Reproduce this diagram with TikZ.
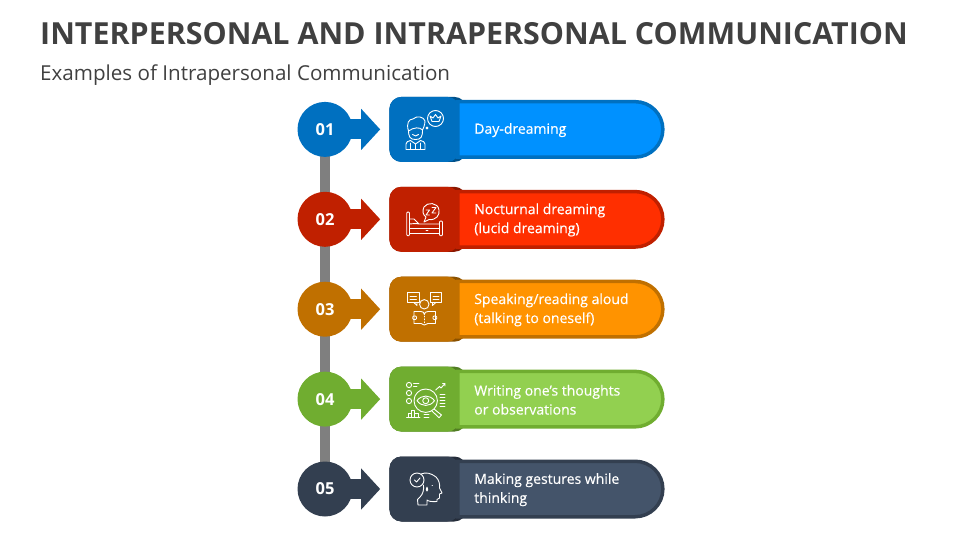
\documentclass[tikz,border=0pt]{standalone}
\usepackage{xcolor}
\usepackage{fontspec}
\usepackage{tikz}
\usetikzlibrary{positioning,arrows.meta,shapes.misc,backgrounds}
\setmainfont{Open Sans}
\newfontfamily\captionfont[FakeBold=0.4]{Open Sans}
\definecolor{blueDark}{HTML}{0070C0}
\definecolor{blueLight}{HTML}{0091FF}
\definecolor{redDark}{HTML}{C02000}
\definecolor{redLight}{HTML}{FF2F00}
\definecolor{orangeDark}{HTML}{C07000}
\definecolor{orangeLight}{HTML}{FF9300}
\definecolor{greenDark}{HTML}{70AD30}
\definecolor{greenLight}{HTML}{92D050}
\definecolor{slateDark}{HTML}{333F50}
\definecolor{slateLight}{HTML}{44546A}
\definecolor{titleGray}{HTML}{404040}
\definecolor{spineGray}{HTML}{7F7F7F}

\begin{document}
\begin{tikzpicture}[x=1pt, y=-1pt,
    bubble/.style={circle, fill=#1, minimum size=55pt, inner sep=0pt, text=white, font=\fontsize{16.5}{19}\bfseries\selectfont},
    pointer/.style={draw=#1, line width=20pt, shorten >=9pt, -{Triangle[length=19pt, width=40pt]}},
    tile/.style={fill=#1!72!black, minimum width=77pt, minimum height=65pt, inner sep=0pt, rounded corners=12pt,
        path picture={\fill[#1] (path picture bounding box.south west) rectangle ([xshift=-7pt]path picture bounding box.north east);}},
    pill/.style={rounded rectangle, rounded rectangle left arc=none, draw=#1Dark, fill=#1Light, line width=3.5pt, minimum width=205pt, minimum height=55.5pt, inner sep=0pt},
    caption/.style={text=white, inner sep=0pt, align=left, yshift=-.7pt, font=\captionfont\fontsize{14}{19}\selectfont},
    spine/.style={draw=spineGray, line width=10pt},
    icon/.style={draw=white, line width=.9pt, line join=round, line cap=round}]
    \useasboundingbox (0,0) rectangle (960,540);

    % Titulos
    \node[anchor=west, inner sep=0pt, text=titleGray, font=\fontsize{30.4}{36}\bfseries\selectfont] (title) at (40,34)
        {INTERPERSONAL AND INTRAPERSONAL COMMUNICATION};
    \node[anchor=west, inner sep=0pt, text=titleGray, font=\fontsize{20.6}{24}\selectfont] (subtitle) at (40,75)
        {Examples of Intrapersonal Communication};

    % Circulos numerados
    \node[bubble=blueDark] (c1) at (325,129.4) {01};
    \node[bubble=redDark, below=34.5pt of c1] (c2) {02};
    \node[bubble=orangeDark, below=34.5pt of c2] (c3) {03};
    \node[bubble=greenDark, below=34.5pt of c3] (c4) {04};
    \node[bubble=slateDark, below=34.5pt of c4] (c5) {05};

    % Linea vertical
    \begin{scope}[on background layer]
        \draw[spine] (c1.center) -- (c2.center);
        \draw[spine] (c2.center) -- (c3.center);
        \draw[spine] (c3.center) -- (c4.center);
        \draw[spine] (c4.center) -- (c5.center);
    \end{scope}

    % Bloques de color
    \node[tile=blueDark, right=36.5pt of c1] (t1) {};
    \node[tile=redDark, right=36.5pt of c2] (t2) {};
    \node[tile=orangeDark, right=36.5pt of c3] (t3) {};
    \node[tile=greenDark, right=36.5pt of c4] (t4) {};
    \node[tile=slateDark, right=36.5pt of c5] (t5) {};

    % Flechas
    \draw[pointer=blueDark] ([xshift=20pt]c1.center) -- (t1.west);
    \draw[pointer=redDark] ([xshift=20pt]c2.center) -- (t2.west);
    \draw[pointer=orangeDark] ([xshift=20pt]c3.center) -- (t3.west);
    \draw[pointer=greenDark] ([xshift=20pt]c4.center) -- (t4.west);
    \draw[pointer=slateDark] ([xshift=20pt]c5.center) -- (t5.west);

    % Pastillas
    \node[pill=blue, right=-10.5pt of t1] (p1) {};
    \node[pill=red, right=-10.5pt of t2] (p2) {};
    \node[pill=orange, right=-10.5pt of t3] (p3) {};
    \node[pill=green, right=-10.5pt of t4] (p4) {};
    \node[pill=slate, right=-10.5pt of t5] (p5) {};

    % Textos
    \node[caption, right=7.5pt of t1] (l1) {Day-dreaming};
    \node[caption, right=7.5pt of t2] (l2) {Nocturnal dreaming\\(lucid dreaming)};
    \node[caption, right=7.5pt of t3] (l3) {Speaking/reading aloud\\(talking to oneself)};
    \node[caption, right=7.5pt of t4] (l4) {Writing one’s thoughts\\or observations};
    \node[caption, right=7.5pt of t5] (l5) {Making gestures while\\thinking};

    % Icono 1
    \begin{scope}[shift={(400,105)}, icon]
        \draw (35.5,13.5) circle (8);
        \draw (30,11) -- (32,16.5) -- (39,16.5) -- (41,11) -- (38,13) -- (35.5,9.5) -- (33,13) -- cycle;
        \draw (27,23) circle (1.1);
        \draw (8.5,25) .. controls (8.5,32) and (10,34.5) .. (15.5,34.5) .. controls (21,34.5) and (22.5,32) .. (22.5,25);
        \draw (8.5,26) .. controls (6,18) and (9,14) .. (13,14) .. controls (17,10) and (24,12) .. (25,16) .. controls (25,20) and (23,24) .. (22.5,25) .. controls (20,22) and (14,22) .. (8.5,26);
        \draw (12.5,29.5) .. controls (14,31.5) and (17,31.5) .. (18.5,29.5);
        \draw (6,44.5) -- (6,39) .. controls (6,37) and (8,36) .. (10.5,35.5) -- (15.5,39) -- (20.5,35.5) .. controls (23,36) and (25,37) .. (25,39) -- (25,44.5) -- cycle;
        \draw (10.5,38) -- (10.5,44.5) (15.5,39) -- (15.5,44.5) (20.5,38) -- (20.5,44.5);
    \end{scope}

    % Icono 2
    \begin{scope}[shift={(400,195)}, icon]
        \draw (26,22) -- (24,27) -- (29,24.5) .. controls (36,25.5) and (40,20) .. (39,15) .. controls (38,7) and (27,7) .. (24,12) .. controls (22,16) and (23,20) .. (26,22);
        \draw (26,15) -- (29.5,15) -- (26,20) -- (29.5,20);
        \draw (32,12.5) -- (36,12.5) -- (32,18) -- (36,18);
        \draw[rounded corners=1pt] (6.7,17) rectangle (9.5,40.7);
        \draw[rounded corners=1pt] (39.5,26) rectangle (42.5,40.7);
        \draw (9.5,24) -- (14,24) -- (19,29) -- (39.5,29) (19,29) .. controls (15,28) and (12,29) .. (9.5,29);
        \draw (9.5,33.5) -- (39.5,33.5) (9.5,38) -- (39.5,38);
        \draw (26,35.7) -- (28,35.7);
    \end{scope}

    % Icono 3
    \begin{scope}[shift={(400,285)}, icon]
        \draw (7.3,7.7) rectangle (19.3,17.7);
        \draw (14,17.7) -- (17,20.5) -- (17,17.7);
        \draw (10,11) -- (16.5,11) (10,14.3) -- (16.5,14.3);
        \draw (30,7.7) rectangle (41.7,17.7);
        \draw (32.5,17.7) -- (32.5,20.5) -- (35.5,17.7);
        \draw (33,11) -- (39,11) (33,14.3) -- (39,14.3);
        \draw (24.3,19.3) circle (4.7);
        \draw (14,26.5) -- (21,26.5) .. controls (23,26.5) and (24.3,27.5) .. (24.3,29.5) .. controls (24.3,27.5) and (26,26.5) .. (28,26.5) -- (35.5,26.5) -- (35.5,38.5) -- (28,38.5) -- (24.3,40) -- (21,38.5) -- (14,38.5) -- cycle;
        \draw[dotted] (24.3,31) -- (24.3,38.5);
        \draw[rounded corners=1pt] (12.7,31) rectangle (16.5,34.5);
        \draw[rounded corners=1pt] (33,31) rectangle (36.7,34.5);
    \end{scope}

    % Icono 4
    \begin{scope}[shift={(400,375)}, icon]
        \draw (9,10) circle (2.6) (9,18) circle (2.6) (9,26) circle (2.6);
        \draw (13.5,8.5) -- (19,8.5) (13.5,11) -- (17,11);
        \draw (25.7,25.7) circle (11.7);
        \draw (17,25.7) .. controls (21.5,19.5) and (30,19.5) .. (34.5,25.7) .. controls (30,32) and (21.5,32) .. (17,25.7) -- cycle;
        \draw (25.7,25.7) circle (3);
        \draw (34,34) -- (41.5,40) -- (39,42.7) -- (32,36);
        \draw (35.7,15) -- (39.5,11.5) -- (41,13) -- (45,8.5) (42.5,8.5) -- (45,8.5) -- (45,11);
        \draw (40,19) -- (45,19) (40,22) -- (45,22) (40,25) -- (45,25) (40,28) -- (45,28) (40,31) -- (45,31);
        \draw (6.5,42.7) -- (20,42.7) (8,42.7) -- (8,38.5) -- (11,38.5) -- (11,42.7) (11,42.7) -- (11,35.5) -- (14.5,35.5) -- (14.5,42.7) (14.5,42.7) -- (14.5,38.5) -- (18,38.5) -- (18,42.7);
        \draw (24,39) -- (29,39) (24,42) -- (29,42);
    \end{scope}

    % Icono 5
    \begin{scope}[shift={(400,465)}, icon]
        \draw (17,15) circle (7);
        \draw (14.5,15) -- (16.5,17) -- (20,13);
        \draw (21,9) .. controls (26,7) and (31,8) .. (36,12) .. controls (39,15) and (40,19) .. (39.5,23) -- (42,28) -- (39.5,29) -- (39.5,33) -- (37,34.5) -- (37,36.5) .. controls (31,37) and (28,36) .. (27,35) -- (27,40) -- (18,40) -- (17.5,34.5) -- (20,32) .. controls (23,29) and (24,25) .. (23.5,20);
        \draw (27,22) .. controls (26,24) and (26,26) .. (27,26) .. controls (28,26) and (28,24) .. (27,22);
        \draw (32,20) -- (32.5,20);
    \end{scope}
\end{tikzpicture}
\end{document}
